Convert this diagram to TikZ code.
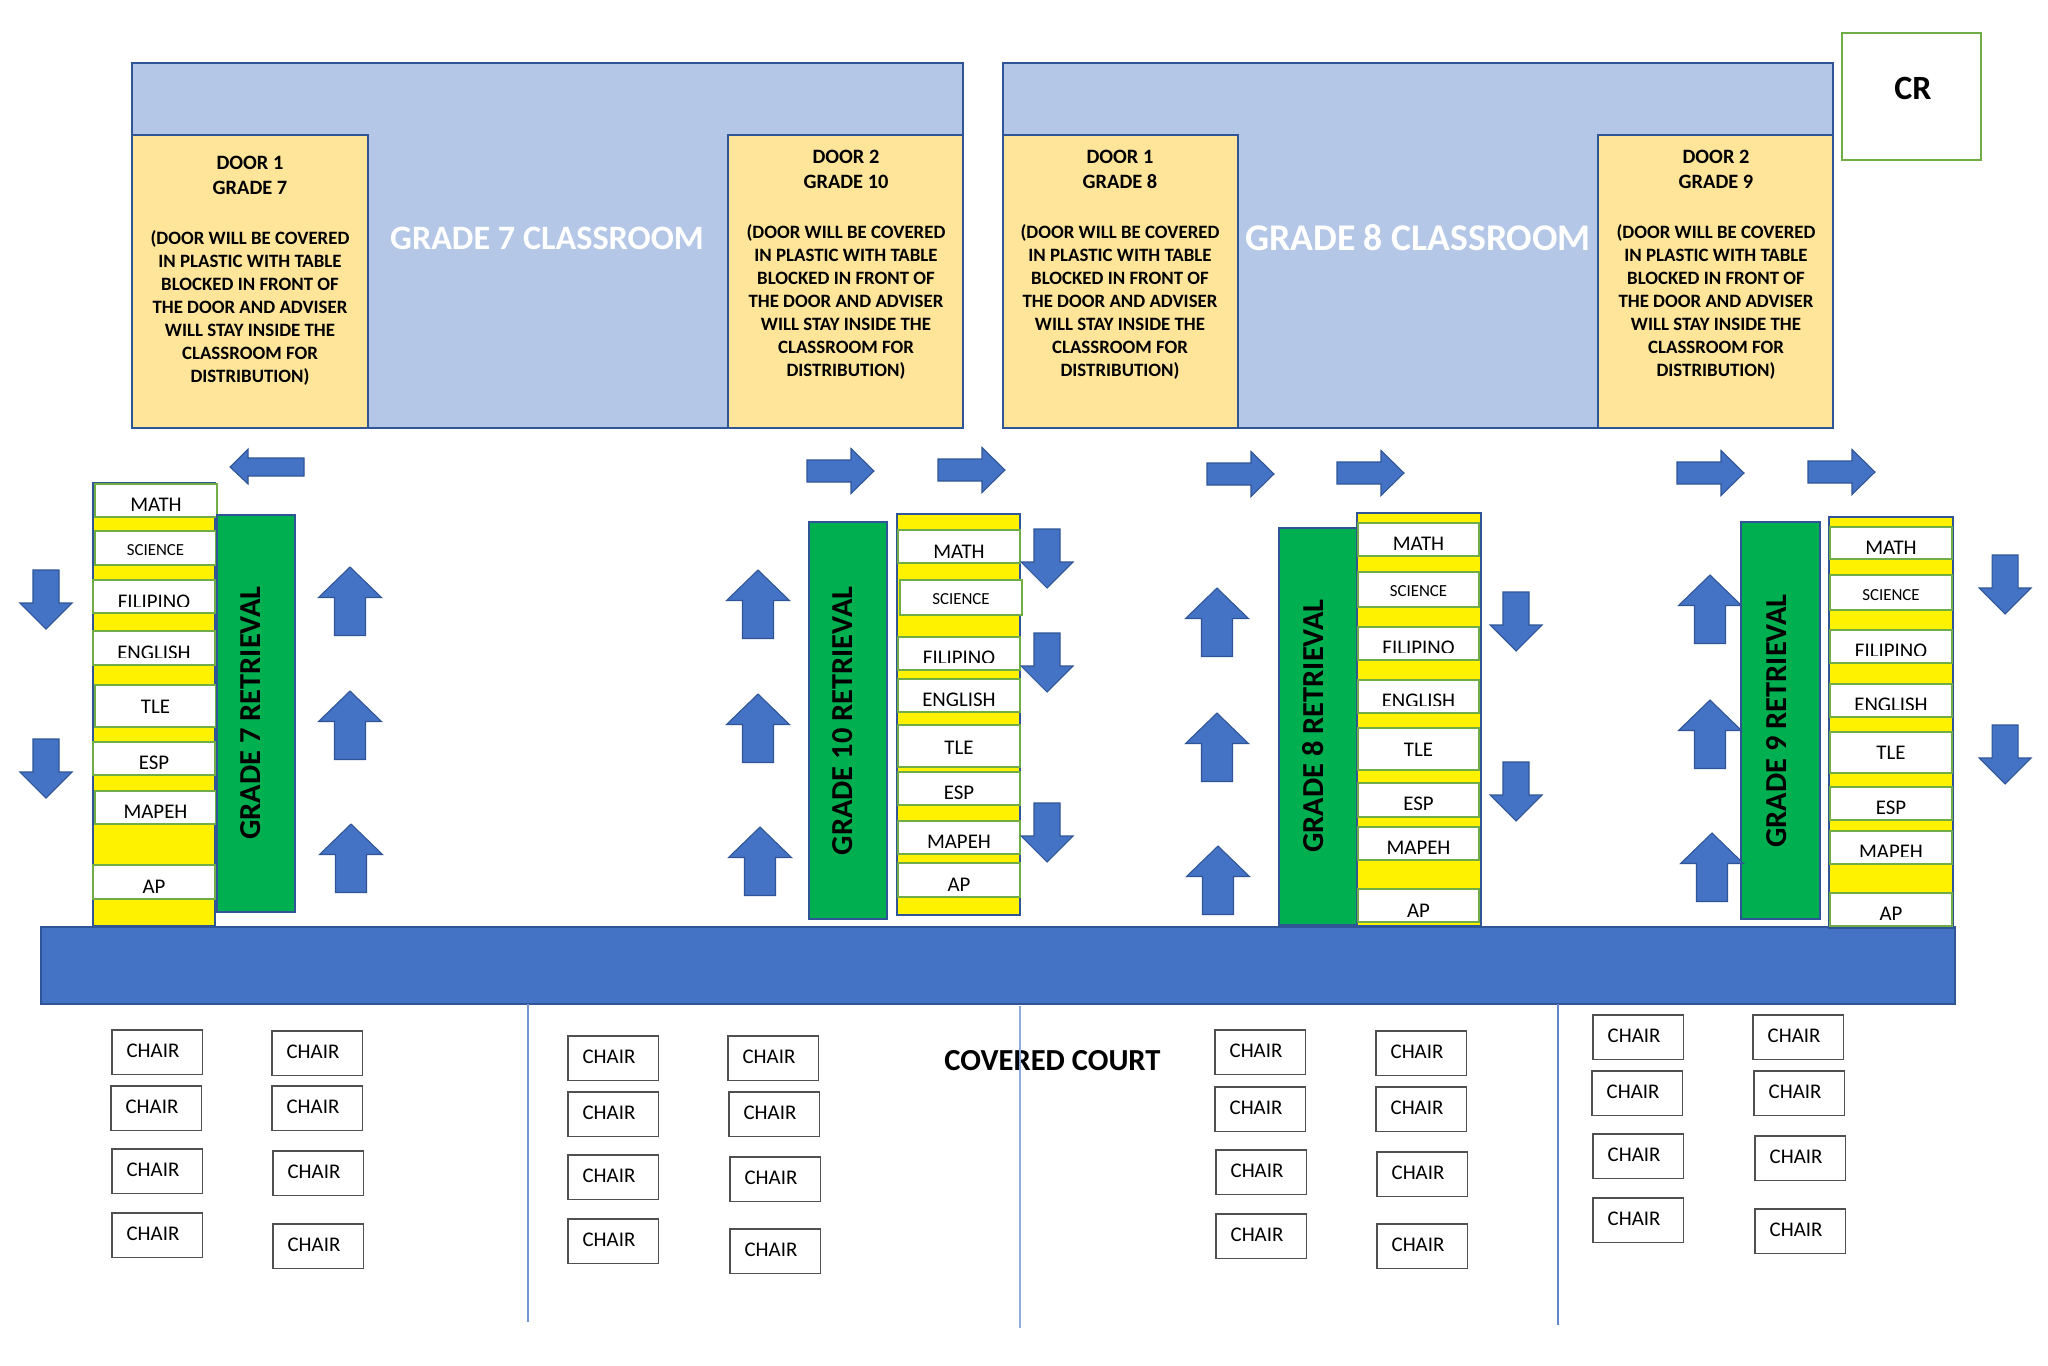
\documentclass[tikz,border=0pt]{standalone}
\usepackage{fontspec}
\setmainfont{Carlito}
\definecolor{roomblue}{HTML}{B4C7E7}
\definecolor{doorfill}{HTML}{FFE599}
\definecolor{edgeblue}{HTML}{2F5597}
\definecolor{barblue}{HTML}{4472C4}
\definecolor{retgreen}{HTML}{00B050}
\definecolor{subjgreen}{HTML}{70AD47}
\definecolor{chairedge}{HTML}{505050}
\definecolor{linepale}{HTML}{8FAADC}
\tikzset{
  plainrect/.style={rectangle,inner sep=0pt,outer sep=0pt},
  room/.style={plainrect,draw=edgeblue,fill=roomblue,line width=1.7pt},
  doorbox/.style={plainrect,draw=edgeblue,fill=doorfill,line width=1.7pt},
  doortext/.style={inner sep=0pt,align=center,font=\bfseries\fontsize{16.1}{19.7}\selectfont,anchor=north},
  roomtext/.style={inner sep=0pt,text=white,font=\bfseries\fontsize{29.2}{32}\selectfont},
  roomtextwide/.style={inner sep=0pt,text=white,font=\bfseries\fontsize{32.2}{35}\selectfont},
  stackbox/.style={plainrect,draw=edgeblue,fill=yellow,line width=1.7pt},
  subject/.style={plainrect,draw=subjgreen,fill=white,line width=1.5pt},
  subjtext/.style={inner sep=0pt,font=\fontsize{17.8}{20}\selectfont},
  retbox/.style={plainrect,draw=edgeblue,fill=retgreen,line width=1.5pt},
  rettext/.style={inner sep=0pt,rotate=90,font=\bfseries\fontsize{26}{30}\selectfont},
  crbox/.style={plainrect,draw=subjgreen,fill=white,line width=1.6pt},
  crtext/.style={inner sep=0pt,font=\bfseries\fontsize{29}{32}\selectfont},
  floorbar/.style={plainrect,draw=edgeblue,fill=barblue,line width=1.5pt},
  chairbox/.style={plainrect,draw=chairedge,fill=white,line width=1.1pt,minimum width=2.72cm,minimum height=1.335cm,anchor=north west},
  chairtext/.style={inner sep=0pt,font=\fontsize{17.8}{20}\selectfont},
  courttext/.style={inner sep=0pt,font=\bfseries\fontsize{26.1}{30}\selectfont},
  arrowshape/.style={draw=edgeblue,fill=barblue,line width=0.9pt,line join=miter},
  divider/.style={draw=linepale,line width=1pt}
}
% style name x0 y0 x1 y1 text
\newcommand{\boxnode}[7]{\node[#1,minimum width={(#5-#3)*0.03cm},minimum height={(#6-#4)*0.03cm},anchor=north west] (#2) at (#3,#4) {#7};}
% name x0 y0 x1 y1 label ycentre yclip
\newcommand{\subj}[8]{\boxnode{subject}{#1}{#2}{#3}{#4}{#5}{}
  \begin{scope}\clip (#2,#3) rectangle (#4,#8);
  \node[subjtext] (#1t) at ({(#2+#4)/2},{#7+1}) {#6};\end{scope}}
\newcommand{\scifont}{\fontsize{14.4}{17}\selectfont}
\newcommand{\arrUp}[2]{\draw[arrowshape] (#1,#2) -- ++(31.5,30.5) -- ++(-16,0) -- ++(0,38) -- ++(-31,0) -- ++(0,-38) -- ++(-16,0) -- cycle;}
\newcommand{\arrDown}[2]{\draw[arrowshape] ({#1-13},#2) -- ++(26,0) -- ++(0,33) -- ++(13,0) -- ++(-26,26) -- ++(-26,-26) -- ++(13,0) -- cycle;}
\newcommand{\arrRight}[2]{\draw[arrowshape] (#1,{#2-11}) -- ++(44,0) -- ++(0,-11.5) -- ++(23,22.5) -- ++(-23,22.5) -- ++(0,-11.5) -- ++(-44,0) -- cycle;}
% name x0 y0
\newcommand{\chair}[3]{\node[chairbox] (#1) at (#2,#3) {};\node[chairtext] (#1t) at ({#2+41},{#3+21}) {CHAIR};}
\newcommand{\doorwords}{(DOOR WILL BE COVERED\\IN PLASTIC WITH TABLE\\BLOCKED IN FRONT OF\\THE DOOR AND ADVISER\\WILL STAY INSIDE THE\\CLASSROOM FOR\\DISTRIBUTION)}
% name x ytop head1 head2
\newcommand{\doorlabel}[5]{\node[doortext] (#1) at (#2,#3) {{\fontsize{17.4}{19.7}\selectfont #4}\\[1.9pt]{\fontsize{17.4}{19.7}\selectfont #5}\\[23pt]\doorwords};}
\begin{document}
\begin{tikzpicture}[x=0.03cm,y=-0.03cm]
\useasboundingbox (0,0) rectangle (2048,1365);
\fill[white] (0,0) rectangle (2048,1365);

% Classrooms
\boxnode{room}{roomA}{132}{63}{963}{428}{}
\boxnode{room}{roomB}{1003}{63}{1833}{428}{}
\boxnode{doorbox}{doorA1}{132}{135}{368}{428}{}
\boxnode{doorbox}{doorA2}{728}{135}{963}{428}{}
\boxnode{doorbox}{doorB1}{1003}{135}{1238}{428}{}
\boxnode{doorbox}{doorB2}{1598}{135}{1833}{428}{}
\doorlabel{doorA1t}{250}{155.5}{DOOR 1}{GRADE 7}
\doorlabel{doorA2t}{846}{149.5}{DOOR 2}{GRADE 10}
\doorlabel{doorB1t}{1120}{149.5}{DOOR 1}{GRADE 8}
\doorlabel{doorB2t}{1716}{149.5}{DOOR 2}{GRADE 9}
\node[roomtext] (roomAt) at (547,238) {GRADE 7 CLASSROOM};
\node[roomtextwide] (roomBt) at (1418,238) {GRADE 8 CLASSROOM};

\boxnode{crbox}{cr}{1842}{33}{1981}{160}{}
\node[crtext] (crt) at (1913,88) {CR};

% Floor bar and dividers
\boxnode{floorbar}{bar}{41}{927}{1955}{1004}{}
\draw[divider,draw=barblue!75!white] (528,1004) -- (528,1322);
\draw[divider,draw=barblue!85!white] (1558,1004) -- (1558,1325);

% Grade 7
\boxnode{stackbox}{sA}{93}{483}{215}{926}{}
\subj{aMath}{95}{484}{217}{517}{MATH}{504}{510}
\subj{aSci}{95}{531}{216}{565}{\scifont SCIENCE}{549}{565}
\subj{aFil}{93}{580}{215}{613}{FILIPINO}{601}{606}
\subj{aEng}{93}{631}{215}{665}{ENGLISH}{652}{657}
\subj{aTle}{95}{685}{216}{727}{TLE}{706}{727}
\subj{aEsp}{93}{742}{215}{775}{ESP}{762}{775}
\subj{aMap}{95}{791}{216}{824}{MAPEH}{811}{817}
\subj{aAp}{93}{865}{215}{899}{AP}{886}{892}
\boxnode{retbox}{rA}{217}{515}{295}{912}{}
\node[rettext] (rAt) at (251,713) {GRADE 7 RETRIEVAL};
\draw[arrowshape] (230,467) -- (248,449) -- (248,458) -- (304,458) -- (304,476) -- (248,476) -- (248,484) -- cycle;
\arrDown{46}{570}\arrDown{46}{739}
\arrUp{350}{567}\arrUp{350}{691}\arrUp{351}{824}

% Grade 10
\boxnode{retbox}{rB}{809}{522}{887}{919}{}
\node[rettext] (rBt) at (843,721) {GRADE 10 RETRIEVAL};
\boxnode{stackbox}{sB}{897}{514}{1020}{915}{}
\subj{bMath}{898}{530}{1020}{563}{MATH}{550.5}{563}
\subj{bSci}{900}{580}{1022}{615}{\scifont SCIENCE}{598}{615}
\subj{bFil}{898}{637}{1020}{670}{FILIPINO}{657}{662}
\subj{bEng}{898}{679}{1020}{712}{ENGLISH}{699}{705}
\subj{bTle}{898}{725}{1020}{767}{TLE}{747}{767}
\subj{bEsp}{898}{772}{1020}{805}{ESP}{792}{805}
\subj{bMap}{898}{821}{1020}{854}{MAPEH}{841}{847}
\subj{bAp}{898}{863}{1020}{897}{AP}{884}{897}
\arrRight{807}{471}\arrRight{938}{470}
\arrUp{758}{570}\arrUp{758}{694}\arrUp{760}{827}
\arrDown{1047}{529}\arrDown{1047}{633}\arrDown{1047}{803}

% Grade 8
\boxnode{retbox}{rC}{1279}{528}{1357}{925}{}
\node[rettext] (rCt) at (1313,726) {GRADE 8 RETRIEVAL};
\boxnode{stackbox}{sC}{1357}{513}{1481}{926}{}
\subj{cMath}{1358}{523}{1479}{556}{MATH}{543}{556}
\subj{cSci}{1358}{572}{1479}{607}{\scifont SCIENCE}{590}{607}
\subj{cFil}{1358}{627}{1479}{660}{FILIPINO}{647}{652}
\subj{cEng}{1358}{680}{1479}{713}{ENGLISH}{700}{705}
\subj{cTle}{1358}{728}{1479}{770}{TLE}{749}{770}
\subj{cEsp}{1358}{783}{1479}{817}{ESP}{803}{817}
\subj{cMap}{1358}{827}{1479}{860}{MAPEH}{847}{853}
\subj{cAp}{1358}{889}{1479}{922}{AP}{909.5}{916}
\arrRight{1207}{474}\arrRight{1337}{473}
\arrUp{1217}{588}\arrUp{1217}{713}\arrUp{1218}{846}
\arrDown{1516}{592}\arrDown{1516}{762}

% Grade 9
\boxnode{retbox}{rD}{1741}{522}{1820}{919}{}
\node[rettext] (rDt) at (1777,721) {GRADE 9 RETRIEVAL};
\boxnode{stackbox}{sD}{1829}{517}{1953}{928}{}
\subj{dMath}{1830}{527}{1952}{559}{MATH}{547}{559}
\subj{dSci}{1830}{575}{1952}{610}{\scifont SCIENCE}{594}{610}
\subj{dFil}{1830}{630}{1952}{663}{FILIPINO}{650}{655}
\subj{dEng}{1830}{684}{1952}{717}{ENGLISH}{704}{709}
\subj{dTle}{1830}{732}{1952}{773}{TLE}{752}{773}
\subj{dEsp}{1830}{787}{1952}{820}{ESP}{807}{820}
\subj{dMap}{1830}{831}{1952}{864}{MAPEH}{851}{856}
\subj{dAp}{1830}{893}{1952}{926}{AP}{913}{919}
\arrRight{1677}{473}\arrRight{1808}{472}
\arrUp{1710}{575}\arrUp{1710}{700}\arrUp{1712}{833}
\arrDown{2005}{555}\arrDown{2005}{725}

% Chairs
\chair{c11}{112}{1030}\chair{c12}{111}{1086}\chair{c13}{112}{1149}\chair{c14}{112}{1213}
\chair{c15}{272}{1031}\chair{c16}{272}{1086}\chair{c17}{273}{1151}\chair{c18}{273}{1224}
\chair{c21}{568}{1036}\chair{c22}{568}{1092}\chair{c23}{568}{1155}\chair{c24}{568}{1219}
\chair{c25}{728}{1036}\chair{c26}{729}{1092}\chair{c27}{730}{1157}\chair{c28}{730}{1229}
\chair{c31}{1215}{1030}\chair{c32}{1215}{1087}\chair{c33}{1216}{1150}\chair{c34}{1216}{1214}
\chair{c35}{1376}{1031}\chair{c36}{1376}{1087}\chair{c37}{1377}{1152}\chair{c38}{1377}{1224}
\chair{c41}{1593}{1015}\chair{c42}{1592}{1071}\chair{c43}{1593}{1134}\chair{c44}{1593}{1198}
\chair{c45}{1753}{1015}\chair{c46}{1754}{1071}\chair{c47}{1755}{1136}\chair{c48}{1755}{1209}

\node[courttext] (court) at (1052.5,1061) {COVERED COURT};
\draw[divider] (1020,1006) -- (1020,1328);
\end{tikzpicture}
\end{document}
